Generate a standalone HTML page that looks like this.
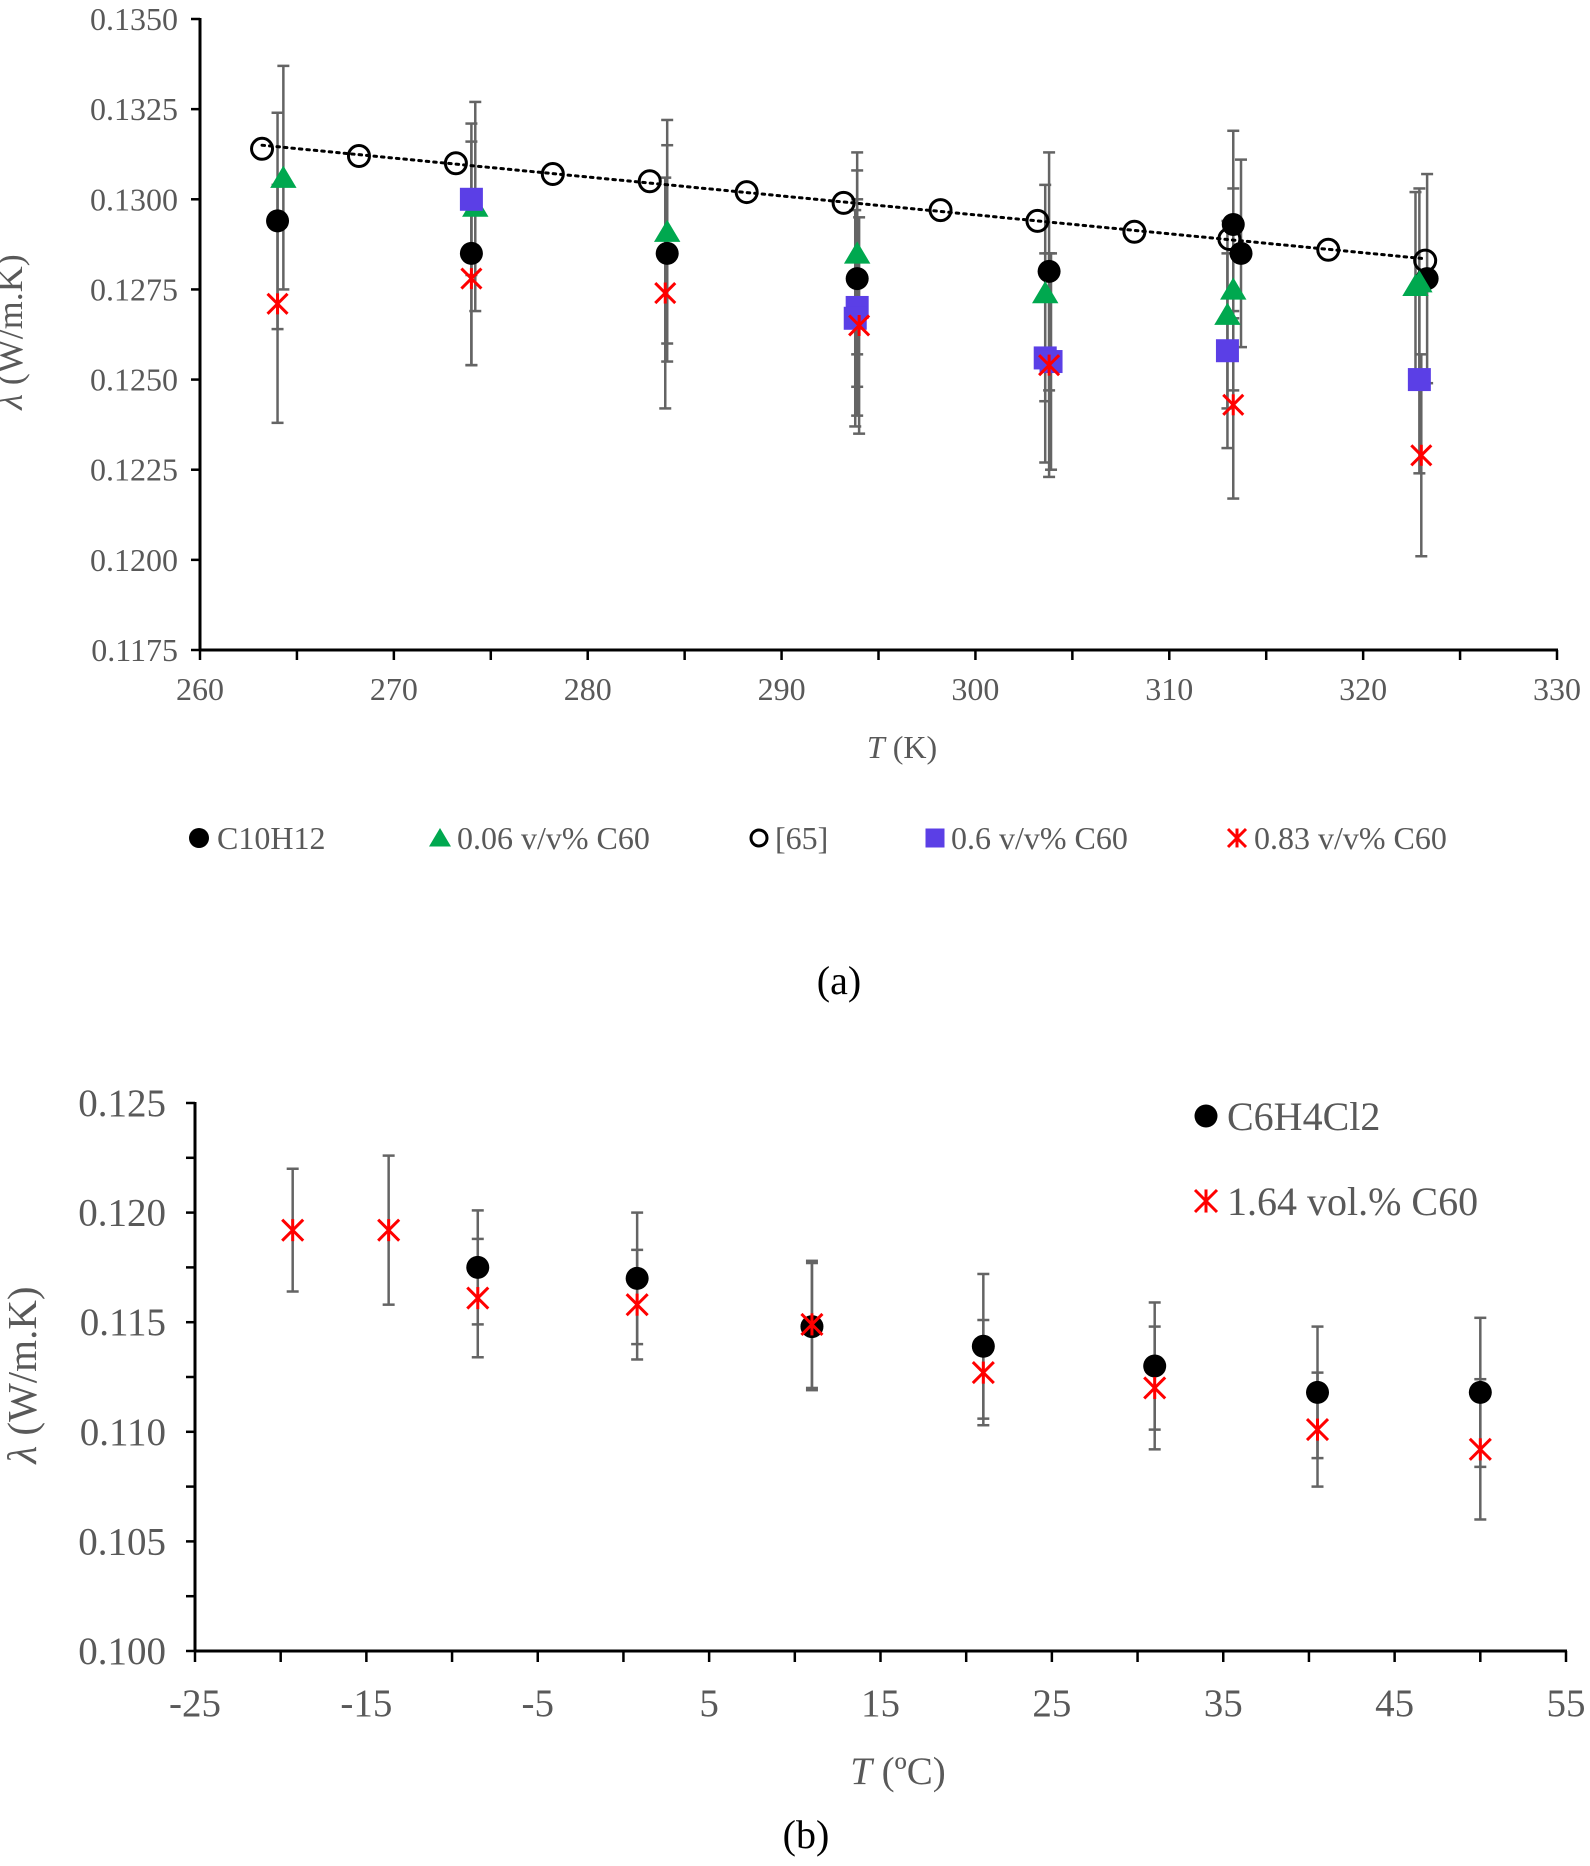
<!DOCTYPE html>
<html><head><meta charset="utf-8"><style>
html,body{margin:0;padding:0;background:#fff;}
svg{display:block;}
text{font-family:"Liberation Serif","Times New Roman",serif;}
</style></head><body>
<svg id="fig" width="1590" height="1866" viewBox="0 0 1590 1866" xmlns="http://www.w3.org/2000/svg">
<g id="pa"></g>
<g id="pb"></g>
</svg>
<script>
// ---- Chart (a) data ----
const aXTicks=[260,270,280,290,300,310,320,330];
const aYTicks=[0.1175,0.1200,0.1225,0.1250,0.1275,0.1300,0.1325,0.1350];
const aYLabels=["0.1175","0.1200","0.1225","0.1250","0.1275","0.1300","0.1325","0.1350"];
const c10T=[264,274,284.1,293.9,303.8,313.3,313.7,323.3];
const c10L=[0.1294,0.1285,0.1285,0.1278,0.1280,0.1293,0.1285,0.1278];
const c10E=[0.0030,0.0031,0.0030,0.0030,0.0033,0.0026,0.0026,0.0029];
const g06T=[264.3,274.2,284.1,293.9,303.6,313.0,313.3,322.7,322.9];
const g06L=[0.1306,0.1298,0.1291,0.1285,0.1274,0.1268,0.1275,0.1276,0.1277];
const g06E=[0.0031,0.0029,0.0031,0.0028,0.0030,0.0026,0.0028,0.0026,0.0026];
const refT=[263.2,268.2,273.2,278.2,283.2,288.2,293.2,298.2,303.2,308.2,313.1,318.2,323.2];
const refL=[0.1314,0.1312,0.1310,0.1307,0.1305,0.1302,0.1299,0.1297,0.1294,0.1291,0.1289,0.1286,0.1283];
const trendT=[263.2,323.2];
const trendL=[0.13150,0.12835];
const p06T=[274,293.9,293.8,303.6,303.9,313.0,322.9];
const p06L=[0.1300,0.1270,0.1267,0.1256,0.1255,0.1258,0.1250];
const p06E=[0.0021,0.0030,0.0030,0.0029,0.0030,0.0027,0.0026];
const r83T=[264,274,284,294,303.8,313.3,323];
const r83L=[0.1271,0.1278,0.1274,0.1265,0.1254,0.1243,0.1229];
const r83E=[0.0033,0.0024,0.0032,0.0030,0.0031,0.0026,0.0028];
// ---- Chart (b) data ----
const bXTicks=[-25,-15,-5,5,15,25,35,45,55];
const bYTicks=[0.100,0.105,0.110,0.115,0.120,0.125];
const bYLabels=["0.100","0.105","0.110","0.115","0.120","0.125"];
const dcbT=[-8.5,0.8,11,21,31,40.5,50];
const dcbL=[0.1175,0.1170,0.1148,0.1139,0.1130,0.1118,0.1118];
const dcbE=[0.0026,0.0030,0.0029,0.0033,0.0029,0.0030,0.0034];
const r164T=[-19.3,-13.7,-8.5,0.8,11,21,31,40.5,50];
const r164L=[0.1192,0.1192,0.1161,0.1158,0.1149,0.1127,0.1120,0.1101,0.1092];
const r164E=[0.0028,0.0034,0.0027,0.0025,0.0029,0.0024,0.0028,0.0026,0.0032];

const NS="http://www.w3.org/2000/svg";
function mk(parent,tag,attrs,txt){const e=document.createElementNS(NS,tag);for(const k in attrs)e.setAttribute(k,attrs[k]);if(tag==='text')e.setAttribute('font-family','Liberation Serif, serif');if(txt!==undefined)e.textContent=txt;parent.appendChild(e);return e;}

const aX=v=>200+(v-260)/70*1357;
const aY=v=>650-(v-0.1175)/0.0175*631;
const bX=v=>195+(v+25)/80*1371;
const bY=v=>1651-(v-0.100)/0.025*548;

function errBars(g,xs,ys,es,X,Y,cap,name){
  for(let i=0;i<xs.length;i++){
    const x=X(xs[i]),y1=Y(ys[i]+es[i]),y2=Y(ys[i]-es[i]);
    const l=mk(g,'line',{x1:x,x2:x,y1:y1,y2:y2,stroke:'#646464','stroke-width':2.5});
    
    
    mk(g,'line',{x1:x-cap,x2:x+cap,y1:y1,y2:y1,stroke:'#646464','stroke-width':2.5});
    mk(g,'line',{x1:x-cap,x2:x+cap,y1:y2,y2:y2,stroke:'#646464','stroke-width':2.5});
  }
}
function dot(g,x,y,r,name){const c=mk(g,'circle',{cx:x,cy:y,r:r,fill:'#000'});return c;}
function ring(g,x,y,r,name){const c=mk(g,'circle',{cx:x,cy:y,r:r,fill:'none',stroke:'#000','stroke-width':3});return c;}
function tri(g,x,y,s,name){const p=mk(g,'polygon',{points:`${x},${y-s} ${x-s*1.1},${y+s*0.85} ${x+s*1.1},${y+s*0.85}`,fill:'#00a84f'});return p;}
function sq(g,x,y,s,name){const p=mk(g,'rect',{x:x-s,y:y-s,width:2*s,height:2*s,fill:'#5b3fe6'});return p;}
function star(g,x,y,s,name){const gg=mk(g,'g',{stroke:'#ff0000','stroke-width':3});
  mk(gg,'line',{x1:x-s,y1:y-s,x2:x+s,y2:y+s});mk(gg,'line',{x1:x-s,y1:y+s,x2:x+s,y2:y-s});mk(gg,'line',{x1:x,y1:y-s*1.05,x2:x,y2:y+s*1.05});return gg;}

// ===== Chart a =====
const A=document.getElementById('pa');
let ax=mk(A,'line',{x1:200,y1:18,x2:200,y2:651,stroke:'#000','stroke-width':3});

ax=mk(A,'line',{x1:199,y1:650,x2:1558,y2:650,stroke:'#000','stroke-width':3});

aYTicks.forEach((v,i)=>{const y=aY(v);mk(A,'line',{x1:191,x2:200,y1:y,y2:y,stroke:'#000','stroke-width':2.5});
  const t=mk(A,'text',{x:178,y:y+11,'text-anchor':'end','font-size':32,fill:'#595959'},aYLabels[i]);
  });
for(let v=260;v<=330;v+=5){const x=aX(v);mk(A,'line',{x1:x,x2:x,y1:650,y2:660,stroke:'#000','stroke-width':2.5});}
aXTicks.forEach(v=>{const t=mk(A,'text',{x:aX(v),y:700,'text-anchor':'middle','font-size':32,fill:'#595959'},String(v));
  });
let tt=mk(A,'text',{x:22,y:332,'text-anchor':'middle','font-size':36,fill:'#595959',transform:'rotate(-90 22 332)'});

mk(tt,'tspan',{'font-style':'italic'},'λ');mk(tt,'tspan',{},' (W/m.K)');
tt=mk(A,'text',{x:902,y:758,'text-anchor':'middle','font-size':32,fill:'#595959'});

mk(tt,'tspan',{'font-style':'italic'},'T');mk(tt,'tspan',{},' (K)');
errBars(A,c10T,c10L,c10E,aX,aY,6,'c10h12');
errBars(A,g06T,g06L,g06E,aX,aY,6,'c60-006');
errBars(A,p06T,p06L,p06E,aX,aY,6,'c60-06');
errBars(A,r83T,r83L,r83E,aX,aY,6,'c60-083');
let tl=mk(A,'line',{x1:aX(trendT[0]),y1:aY(trendL[0]),x2:aX(trendT[1]),y2:aY(trendL[1]),stroke:'#000','stroke-width':3,'stroke-dasharray':'2.5 5','stroke-linecap':'round'});

refT.forEach((t,i)=>ring(A,aX(t),aY(refL[i]),10.5,'ref65-point'));
c10T.forEach((t,i)=>dot(A,aX(t),aY(c10L[i]),11.5,'c10h12-point'));
g06T.forEach((t,i)=>tri(A,aX(t),aY(g06L[i]),12,'c60-006-point'));
p06T.forEach((t,i)=>sq(A,aX(t),aY(p06L[i]),11.5,'c60-06-point'));
r83T.forEach((t,i)=>star(A,aX(t),aY(r83L[i]),10,'c60-083-point'));
const LA=mk(A,'g',{});
dot(LA,199,838,10,'legend-c10h12-marker');
mk(LA,'text',{x:217,y:849,'font-size':32,fill:'#595959'},'C10H12');
tri(LA,440,838,10,'legend-c60-006-marker');
mk(LA,'text',{x:457,y:849,'font-size':32,fill:'#595959'},'0.06 v/v% C60');
ring(LA,759,838,8,'legend-ref65-marker');
mk(LA,'text',{x:775,y:849,'font-size':32,fill:'#595959'},'[65]');
sq(LA,935,838,9.5,'legend-c60-06-marker');
mk(LA,'text',{x:951,y:849,'font-size':32,fill:'#595959'},'0.6 v/v% C60');
star(LA,1237,838,9,'legend-c60-083-marker');
mk(LA,'text',{x:1254,y:849,'font-size':32,fill:'#595959'},'0.83 v/v% C60');
tt=mk(A,'text',{x:839,y:994,'text-anchor':'middle','font-size':40,fill:'#000'},'(a)');


// ===== Chart b =====
const B=document.getElementById('pb');
ax=mk(B,'line',{x1:195,y1:1102,x2:195,y2:1652,stroke:'#000','stroke-width':3});

ax=mk(B,'line',{x1:194,y1:1651,x2:1567,y2:1651,stroke:'#000','stroke-width':3});

for(let v=0.100;v<=0.12501;v+=0.0025){const y=bY(v);mk(B,'line',{x1:186,x2:195,y1:y,y2:y,stroke:'#000','stroke-width':2.5});}
bYTicks.forEach((v,i)=>{const t=mk(B,'text',{x:166,y:bY(v)+13,'text-anchor':'end','font-size':39,fill:'#595959'},bYLabels[i]);
  });
for(let v=-25;v<=55;v+=5){const x=bX(v);mk(B,'line',{x1:x,x2:x,y1:1651,y2:1662,stroke:'#000','stroke-width':2.5});}
bXTicks.forEach(v=>{const t=mk(B,'text',{x:bX(v),y:1716,'text-anchor':'middle','font-size':39,fill:'#595959'},String(v));
  });
tt=mk(B,'text',{x:36,y:1375,'text-anchor':'middle','font-size':41,fill:'#595959',transform:'rotate(-90 36 1375)'});

mk(tt,'tspan',{'font-style':'italic'},'λ');mk(tt,'tspan',{},' (W/m.K)');
tt=mk(B,'text',{x:898,y:1784,'text-anchor':'middle','font-size':39,fill:'#595959'});

mk(tt,'tspan',{'font-style':'italic'},'T');mk(tt,'tspan',{},' (ºC)');
errBars(B,dcbT,dcbL,dcbE,bX,bY,6,'c6h4cl2');
errBars(B,r164T,r164L,r164E,bX,bY,6,'c60-164');
dcbT.forEach((t,i)=>dot(B,bX(t),bY(dcbL[i]),11.5,'c6h4cl2-point'));
r164T.forEach((t,i)=>star(B,bX(t),bY(r164L[i]),10.5,'c60-164-point'));
const LB=mk(B,'g',{});
dot(LB,1206,1116,11.5,'legend-c6h4cl2-marker');
mk(LB,'text',{x:1227,y:1130,'font-size':40,fill:'#595959'},'C6H4Cl2');
star(LB,1206,1201,11,'legend-c60-164-marker');
mk(LB,'text',{x:1227,y:1215,'font-size':40,fill:'#595959'},'1.64 vol.% C60');
tt=mk(B,'text',{x:806,y:1848,'text-anchor':'middle','font-size':40,fill:'#000'},'(b)');

</script>
</body></html>
